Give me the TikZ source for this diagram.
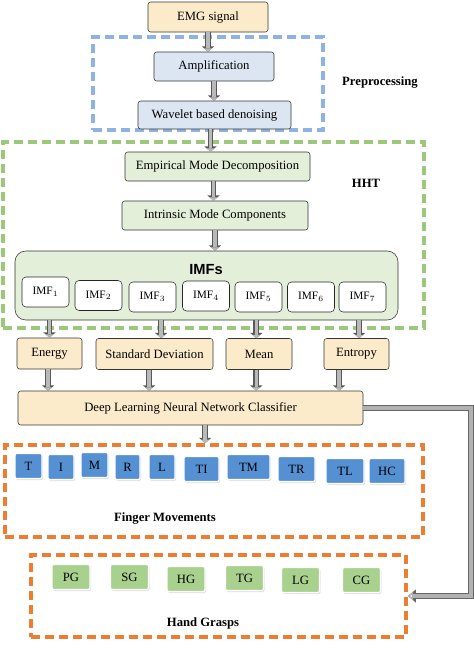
\documentclass[tikz,border=0pt]{standalone}
\usepackage{fontspec}
\setmainfont{Liberation Serif}
\newfontfamily\imfsfont{Liberation Sans}
\usepackage{xcolor}
\usetikzlibrary{positioning, arrows.meta, shadows}

\definecolor{peach}{HTML}{FCEBCA}
\definecolor{paleblue}{HTML}{DCE6F2}
\definecolor{palegreen}{HTML}{E3EFD9}
\definecolor{dashblue}{HTML}{8DB3E2}
\definecolor{dashgreen}{HTML}{9DC77B}
\definecolor{dashorange}{HTML}{ED7D31}
\definecolor{fingblue}{HTML}{5591D2}
\definecolor{graspgreen}{HTML}{A9D18E}

\begin{document}
\begin{tikzpicture}[
      x=0.75pt, y=-0.75pt,
      every node/.style={font=\fontsize{9.5}{11}\selectfont, inner sep=0pt},
      box/.style={draw=black!80, rounded corners=2pt, align=center, minimum height=21.75pt},
      smallbox/.style={draw=black!85, fill=white, rounded corners=3pt, minimum width=35.25pt, minimum height=22.5pt, font=\fontsize{8.5}{10}\selectfont},
      fingbox/.style={fill=fingblue, draw=white, line width=0.8pt, rounded corners=1.5pt, minimum height=18.75pt,
        drop shadow={shadow xshift=0.8pt, shadow yshift=-1.2pt, fill=gray!45}},
      graspbox/.style={fill=graspgreen, draw=white, line width=0.8pt, rounded corners=1.5pt, minimum width=28.5pt, minimum height=18.75pt,
        drop shadow={shadow xshift=0.8pt, shadow yshift=-1.2pt, fill=gray!45}},
      group/.style={line width=2.4pt, dash pattern=on 6.5pt off 4pt},
      grouplabel/.style={font=\bfseries\fontsize{9.5}{11}\selectfont},
      garrow/.style={line width=4.4pt, draw=black!65, -{Triangle[length=4pt, width=9pt]},
        postaction={draw=gray!55, line width=2.6pt, -{Triangle[length=2.6pt, width=6pt]}}},
      railarrow/.style={line width=4.2pt, draw=black!60, -{Triangle[length=6pt, width=9.5pt]},
        postaction={draw=gray!60, line width=2.6pt, -{Triangle[length=4pt, width=6pt, fill=white]}}}
    ]
    \useasboundingbox (0,0) rectangle (474,664);

    % group frames
    \node (pre) [group, draw=dashblue, minimum width=172.5pt, minimum height=69.75pt] at (208,83.5) {};
    \node (hht) [group, draw=dashgreen, minimum width=315.75pt, minimum height=139.5pt] at (213.5,235) {};
    \node (fing) [group, draw=dashorange, line width=2.8pt, minimum width=313.5pt, minimum height=69pt] at (214,491) {};
    \node (grasps) [group, draw=dashorange, line width=2.8pt, minimum width=281.25pt, minimum height=61.5pt] at (218.5,596) {};

    \node [grouplabel] at (380,83) {Preprocessing};
    \node [grouplabel] at (366,183) {HHT};
    \node [grouplabel] at (165,518) {Finger Movements};
    \node [grouplabel] at (203,623) {Hand Grasps};

    % main chain
    \node (emg) [box, fill=peach, minimum width=90pt, minimum height=22.5pt] at (208,17) {EMG signal};
    \node (amp) [box, fill=paleblue, minimum width=90pt] at (214,66.5) {Amplification};
    \node (wav) [box, fill=paleblue, minimum width=114.75pt, minimum height=21pt] at (214.5,115) {Wavelet based denoising};
    \node (emd) [box, fill=palegreen, minimum width=138.75pt] at (217.5,166.5) {Empirical Mode Decomposition};
    \node (imc) [box, fill=palegreen, minimum width=139.5pt] at (215,215.5) {Intrinsic Mode Components};

    % IMFs
    \node (imfs) [draw=black!80, fill=palegreen, rounded corners=8pt, minimum width=287.25pt, minimum height=51.75pt] at (206.5,285.5) {};
    \node (imftitle) at (206,270) {\imfsfont\bfseries\fontsize{11}{13}\selectfont IMFs};
    \node (imf1) [smallbox] at (45.5,292) {IMF$_1$};
    \node (imf2) [smallbox] at (98.5,295.5) {IMF$_2$};
    \node (imf3) [smallbox] at (152.5,297) {IMF$_3$};
    \node (imf4) [smallbox] at (206,296) {IMF$_4$};
    \node (imf5) [smallbox] at (258.5,297) {IMF$_5$};
    \node (imf6) [smallbox] at (311,297) {IMF$_6$};
    \node (imf7) [smallbox] at (362.5,297) {IMF$_7$};

    % features
    \node (energy) [box, fill=peach, minimum width=48.75pt, minimum height=23.25pt] at (49.5,353.5) {Energy};
    \node (sd) [box, fill=peach, minimum width=87.75pt, minimum height=23.25pt] at (154.5,354) {Standard Deviation};
    \node (mean) [box, fill=peach, minimum width=49.5pt, minimum height=23.25pt] at (259,354) {Mean};
    \node (entropy) [box, fill=peach, minimum width=48.75pt, minimum height=23.25pt] at (356.5,354) {Entropy};

    \node (clf) [box, fill=peach, minimum width=258.75pt, minimum height=25.5pt] at (190.5,408) {Deep Learning Neural Network Classifier};

    % finger movements
    \node (t) [fingbox, minimum width=20.25pt] at (28.5,466) {T};
    \node (i) [fingbox, minimum width=19.5pt] at (61,467) {I};
    \node (m) [fingbox, minimum width=20.25pt] at (94.5,465) {M};
    \node (r) [fingbox, minimum width=18.75pt] at (127.5,467) {R};
    \node (l) [fingbox, minimum width=19.5pt] at (162,467) {L};
    \node (ti) [fingbox, minimum width=26.25pt] at (201.5,469) {TI};
    \node (tm) [fingbox, minimum width=32.25pt] at (248.5,467) {TM};
    \node (tr) [fingbox, minimum width=27.75pt] at (296.5,469) {TR};
    \node (tl) [fingbox, minimum width=28.5pt] at (345,471) {TL};
    \node (hc) [fingbox, minimum width=27pt] at (387,471) {HC};

    % hand grasps
    \node (pg) [graspbox] at (71,577) {PG};
    \node (sg) [graspbox] at (129.5,577) {SG};
    \node (hg) [graspbox] at (186,579) {HG};
    \node (tg) [graspbox] at (244.5,578) {TG};
    \node (lg) [graspbox] at (300.5,580) {LG};
    \node (cg) [graspbox] at (361.5,580) {CG};

    \coordinate (rail) at (471,0);

    \draw[garrow] (emg) -- (emg |- amp.north);
    \draw[garrow] (amp) -- (amp |- wav.north);
    \draw[garrow] ([xshift=-3pt]wav.south) -- ([xshift=-3pt]wav.south |- emd.north);
    \draw[garrow] ([xshift=-3pt]emd.south) -- ([xshift=-3pt]emd.south |- imc.north);
    \draw[garrow] (imc) -- (imc |- imfs.north);

    \draw[garrow] (imfs.south -| energy) -- (energy);
    \draw[garrow] ([xshift=5pt]imfs.south -| sd) -- ([xshift=5pt]sd.north);
    \draw[garrow] ([xshift=-2pt]imfs.south -| mean) -- ([xshift=-2pt]mean.north);
    \draw[garrow] ([xshift=2pt]imfs.south -| entropy) -- ([xshift=2pt]entropy.north);

    \draw[garrow] ([xshift=-1pt]energy.south) -- ([xshift=-1pt]energy.south |- clf.north);
    \draw[garrow] ([xshift=-4pt]sd.south) -- ([xshift=-4pt]sd.south |- clf.north);
    \draw[garrow] ([xshift=-2pt]mean.south) -- ([xshift=-2pt]mean.south |- clf.north);
    \draw[garrow] ([xshift=-13pt]entropy.south) -- ([xshift=-13pt]entropy.south |- clf.north);

    \draw[garrow] ([xshift=11pt]clf.south) -- ([xshift=11pt]clf.south |- fing.north);
    \draw[railarrow] (clf.east) -- (clf.east -| rail) |- (grasps.east);
  \end{tikzpicture}
\end{document}
